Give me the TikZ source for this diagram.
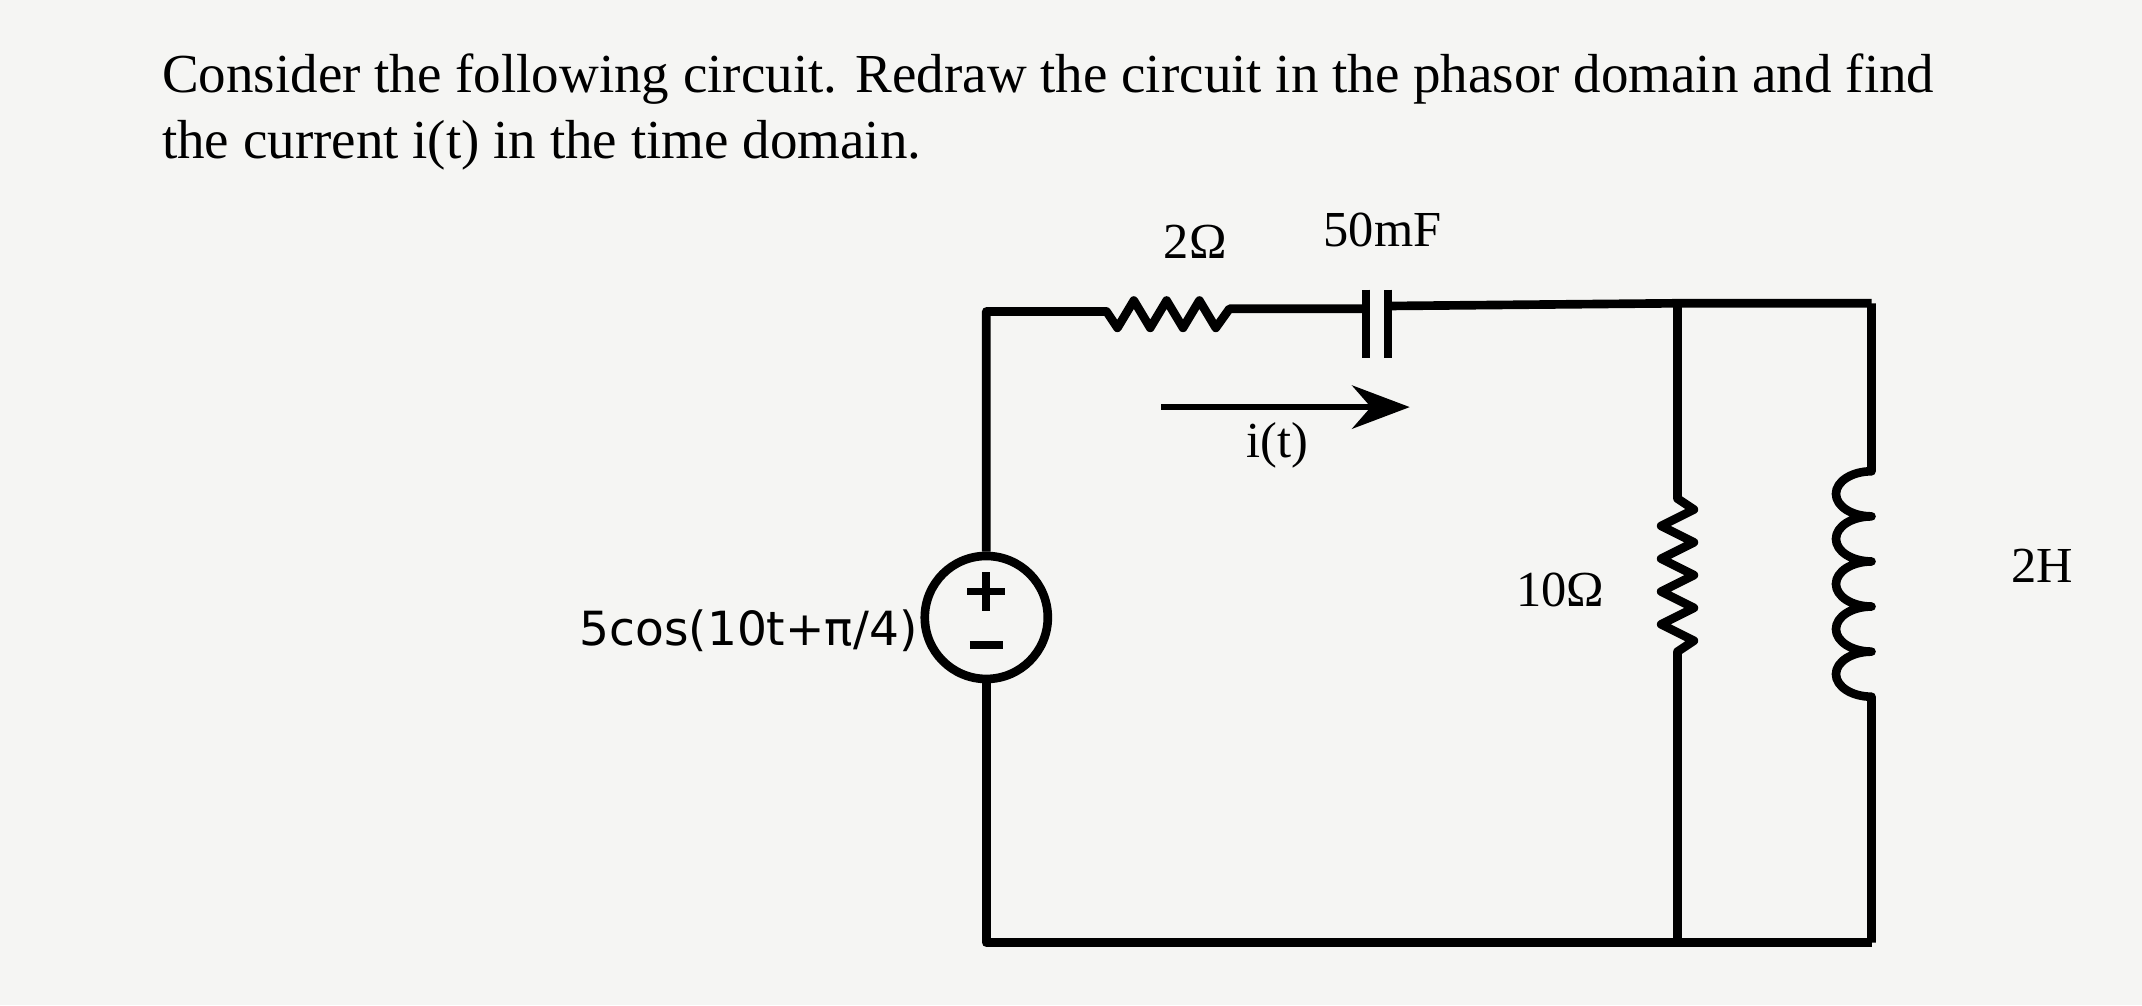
\documentclass[tikz,border=0pt]{standalone}
\usepackage{fontspec}
\setmainfont{Liberation Serif}
\newfontfamily\lblsans{DejaVu Sans}
\usetikzlibrary{arrows.meta}
\definecolor{bgpaper}{RGB}{245,245,243}
\begin{document}
\begin{tikzpicture}[x=0.01cm,y=-0.01cm,
  wire/.style={line width=1.8pt,line join=round},
  lbl/.style={font=\fontsize{10.5}{12}\selectfont},
  txt/.style={font=\fontsize{11.45}{13}\selectfont,anchor=west,inner sep=0}]
\fill[bgpaper] (0,0) rectangle (1568,736);
\useasboundingbox (0,0) rectangle (1568,736);
\node[txt] (t1) at (118,58) {Consider the following circuit. Redraw the circuit in the phasor domain and find};
\node[txt] (t2) at (118,106) {the current i(t) in the time domain.};
\coordinate (tl) at (722,228);
\coordinate (bl) at (722,690);
\coordinate (tm) at (1228,222);
\coordinate (bm) at (1228,690);
\coordinate (tr) at (1370,222);
\coordinate (br) at (1370,690);
\node[circle,draw,line width=1.8pt,minimum size=0.9cm,inner sep=0] (src) at (722,452) {};
\draw[line width=1.6pt] (708,433)--(736,433) (722,419)--(722,447) (710,472)--(734,472);
\node[anchor=east,font=\lblsans\fontsize{9.8}{12}\selectfont] (sl) at (684,462) {5cos(10t+π/4)};
\draw[wire] (src.north) -- (tl) -- (810,228)
  -- (818,240) -- (830,220) -- (842,240) -- (854,220) -- (866,240) -- (878,220) -- (890,240) -- (900,226) -- (1000,226);
\draw[wire] (1000,212) -- (1000,262);
\draw[wire] (1016,212) -- (1016,262);
\draw[wire] (1016,224) -- (tm) -- (tr);
\draw[wire] (src.south) -- (bl) -- (br);
\draw[wire] (tm) -- (1228,365) -- (1240,373) -- (1216,385) -- (1240,397) -- (1216,409) -- (1240,421) -- (1216,433) -- (1240,445) -- (1216,457) -- (1240,469) -- (1228,477) -- (bm);
\draw[wire] (tr) -- (1370,345)
  arc[start angle=-90,end angle=-270,x radius=26,y radius=16.5]
  arc[start angle=-90,end angle=-270,x radius=26,y radius=16.5]
  arc[start angle=-90,end angle=-270,x radius=26,y radius=16.5]
  arc[start angle=-90,end angle=-270,x radius=26,y radius=16.5]
  arc[start angle=-90,end angle=-270,x radius=26,y radius=16.5] -- (br);
\draw[line width=1.4pt,-{Stealth[length=12pt,width=9pt]}] (850,298) -- (1032,298);
\node[lbl] (r1) at (875,177) {2Ω};
\node[lbl] (c1) at (1012,168) {50mF};
\node[lbl] (il) at (935,326) {i(t)};
\node[lbl] (r2) at (1142,432) {10Ω};
\node[lbl] (l1) at (1495,414) {2H};
\end{tikzpicture}
\end{document}
